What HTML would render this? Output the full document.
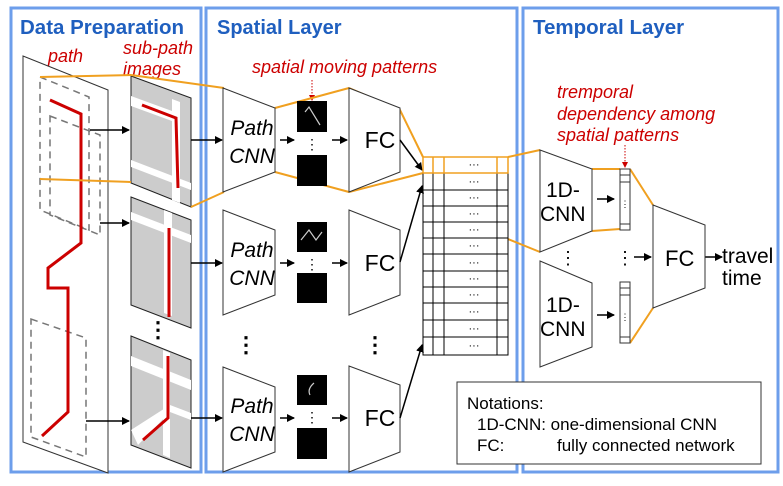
<!DOCTYPE html>
<html><head><meta charset="utf-8"><style>
body{margin:0;background:#fff}
svg text{font-family:"Liberation Sans",Arial,sans-serif}
</style></head><body>
<svg width="783" height="481" viewBox="0 0 783 481" xmlns="http://www.w3.org/2000/svg">
<defs>
<marker id="a" markerWidth="8" markerHeight="8" refX="7" refY="4" orient="auto" markerUnits="userSpaceOnUse"><path d="M0,0 L8,4 L0,8 z" fill="#000"/></marker>
<marker id="r" markerWidth="6" markerHeight="6" refX="5" refY="3" orient="auto" markerUnits="userSpaceOnUse"><path d="M0,0 L6,3 L0,6 z" fill="#c00"/></marker>
</defs>
<g fill="none" stroke="#6d9eeb" stroke-width="3">
<rect x="11" y="8" width="190" height="464"/>
<rect x="206" y="8" width="311" height="464"/>
<rect x="523" y="8" width="255" height="464"/>
</g>
<g font-weight="bold" fill="#1f5fbf">
<text x="20" y="34" font-size="20.5">Data Preparation</text>
<text x="217" y="34" font-size="20">Spatial Layer</text>
<text x="533" y="34" font-size="20.5">Temporal Layer</text>
</g>
<g font-style="italic" font-size="18" fill="#c00">
<text x="48" y="62">path</text>
<text x="123" y="54">sub-path</text>
<text x="123" y="75">images</text>
<text x="252" y="73">spatial moving patterns</text>
<text x="557" y="98">tremporal</text>
<text x="557" y="120">dependency among</text>
<text x="557" y="141">spatial patterns</text>
</g>
<g stroke="#c00" stroke-width="1" stroke-dasharray="1.5,1.5" marker-end="url(#r)">
<line x1="312" y1="80" x2="312" y2="100"/>
<line x1="625" y1="145" x2="625" y2="167"/>
</g>
<polygon points="23,56 108,90 108,473 23,442" fill="#fff" stroke="#333" stroke-width="1"/>
<g fill="none" stroke="#777" stroke-width="1.5" stroke-dasharray="7,5">
<polygon points="40,77 89,97 89,230 40,210"/>
<polygon points="50,116 100,135 100,235 50,215"/>
<polygon points="31,319 86,338 86,457 31,437"/>
</g>
<polyline points="50,100 81,114 81,243 48,268 48,288 68,288 68,412 42,436" fill="none" stroke="#c00" stroke-width="3"/>
<g stroke="#222" stroke-width="1">
<polygon points="131,76 191,98 191,207 131,183" fill="#ccc"/>
<polygon points="131,197 191,220 191,328 131,305" fill="#ccc"/>
<polygon points="131,336 191,360 191,468 131,445" fill="#ccc"/>
</g>
<g fill="#fff">
<polygon points="131,96 172,111 172,121 131,106"/>
<polygon points="172,99 180,102 180,203 172,200"/>
<polygon points="131,160 191,183 191,190 131,167"/>
<polygon points="131,212 191,235 191,243 131,220"/>
<polygon points="164,210 172,213 172,316 164,313"/>
<polygon points="131,356 191,380 191,390 131,366"/>
<polygon points="163,350 170,353 170,458 163,455"/>
<polygon points="131,430 170,405 191,413 191,420 170,412 138,445"/>
</g>
<g stroke="#c00" stroke-width="3" fill="none">
<polyline points="142,105 176,118 178,188"/>
<line x1="169" y1="228" x2="169" y2="317"/>
<polyline points="168,356 168,418 143,440"/>
</g>
<g stroke="#f0a020" stroke-width="2" fill="none">
<line x1="40" y1="77" x2="131" y2="75"/>
<line x1="131" y1="75" x2="224" y2="88"/>
<line x1="40" y1="179" x2="131" y2="182"/>
<line x1="191" y1="207" x2="224" y2="192"/>
<line x1="275" y1="108" x2="349" y2="88"/>
<line x1="275" y1="172" x2="349" y2="192"/>
<polyline points="349,88 400,110 423,157"/>
<line x1="349" y1="192" x2="423" y2="173"/>
<line x1="508" y1="157" x2="540" y2="150"/>
<line x1="508" y1="239" x2="540" y2="252"/>
<line x1="592" y1="169" x2="620" y2="169"/>
<line x1="592" y1="231" x2="620" y2="229"/>
<line x1="630" y1="169" x2="653" y2="205"/>
<line x1="630" y1="343" x2="653" y2="308"/>
</g>
<g fill="#fff" stroke="#333" stroke-width="1">
<polygon points="223,88 275,108 275,172 223,192"/>
<polygon points="223,210 275,230 275,295 223,315"/>
<polygon points="223,367 275,387 275,452 223,472"/>
<polygon points="349,88 400,108 400,172 349,192"/>
<polygon points="349,210 400,230 400,295 349,315"/>
<polygon points="349,366 400,385 400,452 349,472"/>
</g>
<g font-style="italic" font-size="21" text-anchor="middle">
<text x="252" y="135">Path</text><text x="252" y="163">CNN</text>
<text x="252" y="257">Path</text><text x="252" y="285">CNN</text>
<text x="252" y="413">Path</text><text x="252" y="441">CNN</text>
</g>
<g font-size="23" text-anchor="middle">
<text x="380" y="148">FC</text><text x="380" y="271">FC</text><text x="380" y="426">FC</text>
</g>
<g fill="#000">
<rect x="297" y="101" width="30" height="31"/><rect x="297" y="155" width="30" height="31"/>
<rect x="297" y="222" width="30" height="30"/><rect x="297" y="273" width="30" height="30"/>
<rect x="297" y="375" width="30" height="30"/><rect x="297" y="428" width="30" height="31"/>
</g>
<g stroke="#ccc" stroke-width="1.2" fill="none">
<polyline points="305,112 309,107 320,125"/>
<polyline points="301,240 309,230 316,240 322,232"/>
<path d="M310,395 q-3,-6 4,-12"/>
</g>
<g fill="#000" font-size="14" text-anchor="middle">
<text x="312" y="149">⋮</text><text x="312" y="269">⋮</text><text x="312" y="422">⋮</text>
</g>
<g font-size="22" font-weight="bold" text-anchor="middle">
<text x="158" y="337">⋮</text><text x="246" y="352">⋮</text><text x="375" y="352">⋮</text>
<text x="568" y="264" font-size="18" font-weight="normal">⋮</text>
<text x="625" y="264" font-size="18" font-weight="normal">⋮</text>
</g>
<g stroke="#000" stroke-width="1.5" marker-end="url(#a)">
<line x1="90" y1="130" x2="129" y2="130"/>
<line x1="100" y1="223" x2="129" y2="223"/>
<line x1="86" y1="421" x2="129" y2="421"/>
<line x1="191" y1="140" x2="222" y2="140"/>
<line x1="191" y1="263" x2="222" y2="263"/>
<line x1="191" y1="418" x2="222" y2="418"/>
<line x1="280" y1="140" x2="294" y2="140"/>
<line x1="280" y1="263" x2="294" y2="263"/>
<line x1="280" y1="418" x2="294" y2="418"/>
<line x1="332" y1="140" x2="347" y2="140"/>
<line x1="332" y1="263" x2="347" y2="263"/>
<line x1="332" y1="418" x2="347" y2="418"/>
<line x1="400" y1="140" x2="422" y2="170"/>
<line x1="400" y1="262" x2="422" y2="186"/>
<line x1="400" y1="418" x2="422" y2="345"/>
<line x1="597" y1="199" x2="614" y2="199"/>
<line x1="597" y1="315" x2="614" y2="315"/>
<line x1="634" y1="257" x2="651" y2="257"/>
<line x1="705" y1="257" x2="722" y2="257"/>
</g>
<g fill="none" stroke="#000" stroke-width="1">
<rect x="423" y="173" width="85" height="182"/>
<line x1="433" y1="173" x2="433" y2="355"/><line x1="444" y1="173" x2="444" y2="355"/><line x1="497" y1="173" x2="497" y2="355"/>
<line x1="423" y1="190" x2="508" y2="190"/><line x1="423" y1="206" x2="508" y2="206"/><line x1="423" y1="222" x2="508" y2="222"/>
<line x1="423" y1="238" x2="508" y2="238"/><line x1="423" y1="254" x2="508" y2="254"/><line x1="423" y1="271" x2="508" y2="271"/>
<line x1="423" y1="287" x2="508" y2="287"/><line x1="423" y1="303" x2="508" y2="303"/><line x1="423" y1="320" x2="508" y2="320"/>
<line x1="423" y1="337" x2="508" y2="337"/>
</g>
<g fill="none" stroke="#f0a020" stroke-width="1.5">
<rect x="423" y="157" width="85" height="16"/>
<line x1="433" y1="157" x2="433" y2="173"/><line x1="444" y1="157" x2="444" y2="173"/><line x1="497" y1="157" x2="497" y2="173"/>
</g>
<g font-size="11" text-anchor="middle">
<text x="474" y="168">···</text><text x="474" y="185">···</text><text x="474" y="201">···</text><text x="474" y="217">···</text>
<text x="474" y="233">···</text><text x="474" y="249">···</text><text x="474" y="266">···</text><text x="474" y="282">···</text>
<text x="474" y="298">···</text><text x="474" y="315">···</text><text x="474" y="332">···</text><text x="474" y="349">···</text>
</g>
<g fill="#fff" stroke="#333" stroke-width="1">
<polygon points="540,150 592,169 592,231 540,252"/>
<polygon points="540,261 592,283 592,347 540,367"/>
<polygon points="653,205 705,225 705,288 653,308"/>
<rect x="620" y="169" width="10" height="61"/>
<rect x="620" y="282" width="10" height="61"/>
<line x1="620" y1="175" x2="630" y2="175"/><line x1="620" y1="182" x2="630" y2="182"/><line x1="620" y1="224" x2="630" y2="224"/>
<line x1="620" y1="288" x2="630" y2="288"/><line x1="620" y1="295" x2="630" y2="295"/><line x1="620" y1="337" x2="630" y2="337"/>
</g>
<g font-size="9" text-anchor="middle"><text x="625" y="207">⋮</text><text x="625" y="320">⋮</text></g>
<g font-size="21">
<text x="546" y="197">1D-</text><text x="540" y="221">CNN</text>
<text x="546" y="312">1D-</text><text x="540" y="336">CNN</text>
<text x="665" y="266" font-size="22">FC</text>
<text x="722" y="263">travel</text><text x="722" y="285">time</text>
</g>
<rect x="457" y="382" width="304" height="82" fill="#fff" stroke="#333" stroke-width="1"/>
<g font-size="17">
<text x="467" y="409">Notations:</text>
<text x="477" y="430">1D-CNN: one-dimensional CNN</text>
<text x="477" y="451">FC:</text><text x="557" y="451">fully connected network</text>
</g>
</svg>
</body></html>
